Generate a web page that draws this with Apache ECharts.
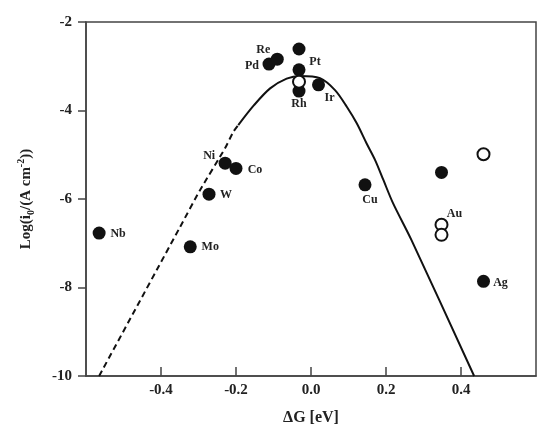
<!DOCTYPE html>
<html>
<head>
<meta charset="utf-8">
<script src="https://cdn.jsdelivr.net/npm/echarts@6/dist/echarts.min.js"></script>
<style>html,body{margin:0;padding:0;background:#fff}#c{width:550px;height:436px}</style>
</head>
<body>
<div id="c"></div>
<script>
// Filled circles (metals)
const filledNames = ['Nb','Mo','W','Ni','Co','Pd','Re','','Pt','Rh','Ir','Cu','','Ag'];
const filledX = [-0.565,-0.322,-0.272,-0.229,-0.200,-0.112,-0.090,-0.032,-0.032,-0.032,0.020,0.144,0.348,0.460];
const filledY = [-6.77,-7.08,-5.89,-5.19,-5.31,-2.95,-2.84,-2.61,-3.08,-3.56,-3.42,-5.68,-5.40,-7.86];
// Open circles
const openNames = ['','Au','',''];
const openX = [-0.032,0.348,0.348,0.460];
const openY = [-3.35,-6.58,-6.81,-4.99];
// Volcano curve: dashed (extrapolated) and solid parts
const dashX = [-0.565,-0.349,-0.296,-0.229,-0.207,-0.194];
const dashY = [-10,-6.63,-5.80,-4.85,-4.48,-4.33];
const solidX = [-0.194,-0.152,-0.109,-0.065,-0.029,0.024,0.064,0.095,0.122,0.148,0.171,0.193,0.219,0.268,0.435];
const solidY = [-4.33,-3.88,-3.50,-3.28,-3.22,-3.27,-3.54,-3.91,-4.29,-4.74,-5.12,-5.57,-6.10,-6.93,-10];
// Axis ticks
const xTicks = [-0.4,-0.2,0.0,0.2,0.4];
const yTicks = [-2,-4,-6,-8,-10];

// label offsets (presentation only)
const labelOffsets = {
  Nb:[19,1], Mo:[20,0], W:[17,1], Ni:[-16,-7], Co:[19,1], Pd:[-17,2], Re:[-14,-9],
  Pt:[16,-8], Rh:[0,13], Ir:[11,13], Cu:[5,15], Ag:[17,2], Au:[13,-11]
};
const FONT = 'Liberation Serif';
const labelStyle = {fontFamily: FONT, fontWeight: 'bold', fontSize: 12, color: '#222'};

function pts(xs, ys, names) {
  return xs.map((x, i) => {
    const n = names ? names[i] : '';
    const item = {value: [x, ys[i]], name: n};
    if (n) {
      item.label = Object.assign({show: true, position: 'inside', formatter: n, offset: labelOffsets[n]}, labelStyle);
    }
    return item;
  });
}

const chart = echarts.init(document.getElementById('c'), null, {renderer: 'canvas'});
chart.setOption({
  animation: false,
  backgroundColor: '#fff',
  grid: {left: 86, right: 14, top: 22, bottom: 60, show: true, borderColor: '#444', borderWidth: 1.5},
  xAxis: {
    type: 'value', min: -0.6, max: 0.6, interval: 0.2,
    name: 'ΔG [eV]', nameLocation: 'middle', nameGap: 34,
    nameTextStyle: {fontFamily: FONT, fontWeight: 'bold', fontSize: 16, color: '#222'},
    axisLine: {onZero: false, lineStyle: {color: '#444', width: 1.5}},
    axisTick: {inside: true, length: 9, lineStyle: {color: '#444', width: 1.5}},
    splitLine: {show: false},
    axisLabel: {
      showMinLabel: false, showMaxLabel: false, margin: 7,
      fontFamily: FONT, fontWeight: 'bold', fontSize: 15, color: '#222',
      formatter: v => {
        const t = xTicks.find(k => Math.abs(k - v) < 1e-6);
        return t === undefined ? '' : t.toFixed(1);
      }
    }
  },
  yAxis: {
    type: 'value', min: -10, max: -2, interval: 2,
    name: '{n|Log(i}{sub|0}{n|/(A cm}{sup|-2}{n|))}',
    nameLocation: 'middle', nameGap: 50,
    nameTextStyle: {
      rich: {
        n: {fontFamily: FONT, fontWeight: 'bold', fontSize: 15, color: '#222', lineHeight: 20},
        sub: {fontFamily: FONT, fontWeight: 'bold', fontSize: 10, color: '#222', verticalAlign: 'bottom', lineHeight: 20},
        sup: {fontFamily: FONT, fontWeight: 'bold', fontSize: 10, color: '#222', verticalAlign: 'top', lineHeight: 20}
      }
    },
    axisLine: {onZero: false, lineStyle: {color: '#444', width: 1.5}},
    axisTick: {inside: false, length: 8, lineStyle: {color: '#444', width: 1.5}},
    splitLine: {show: false},
    axisLabel: {
      margin: 14, fontFamily: FONT, fontWeight: 'bold', fontSize: 15, color: '#222',
      formatter: v => {
        const t = yTicks.find(k => Math.abs(k - v) < 1e-6);
        return t === undefined ? '' : String(t);
      }
    }
  },
  series: [
    {
      type: 'line', data: dashX.map((x, i) => [x, dashY[i]]), showSymbol: false, smooth: 0.2,
      lineStyle: {color: '#111', width: 2, type: [6, 4]}, z: 1, silent: true
    },
    {
      type: 'line', data: solidX.map((x, i) => [x, solidY[i]]), showSymbol: false, smooth: 0.3,
      lineStyle: {color: '#111', width: 2}, z: 1, silent: true
    },
    {
      type: 'scatter', data: pts(filledX, filledY, filledNames), symbol: 'circle', symbolSize: 13,
      itemStyle: {color: '#111', borderColor: '#111', borderWidth: 0, opacity: 1}, z: 3
    },
    {
      type: 'scatter', data: pts(openX, openY, openNames), symbol: 'circle', symbolSize: 12,
      itemStyle: {color: '#fff', borderColor: '#111', borderWidth: 2, opacity: 1}, z: 4
    }
  ]
});
</script>
</body>
</html>
